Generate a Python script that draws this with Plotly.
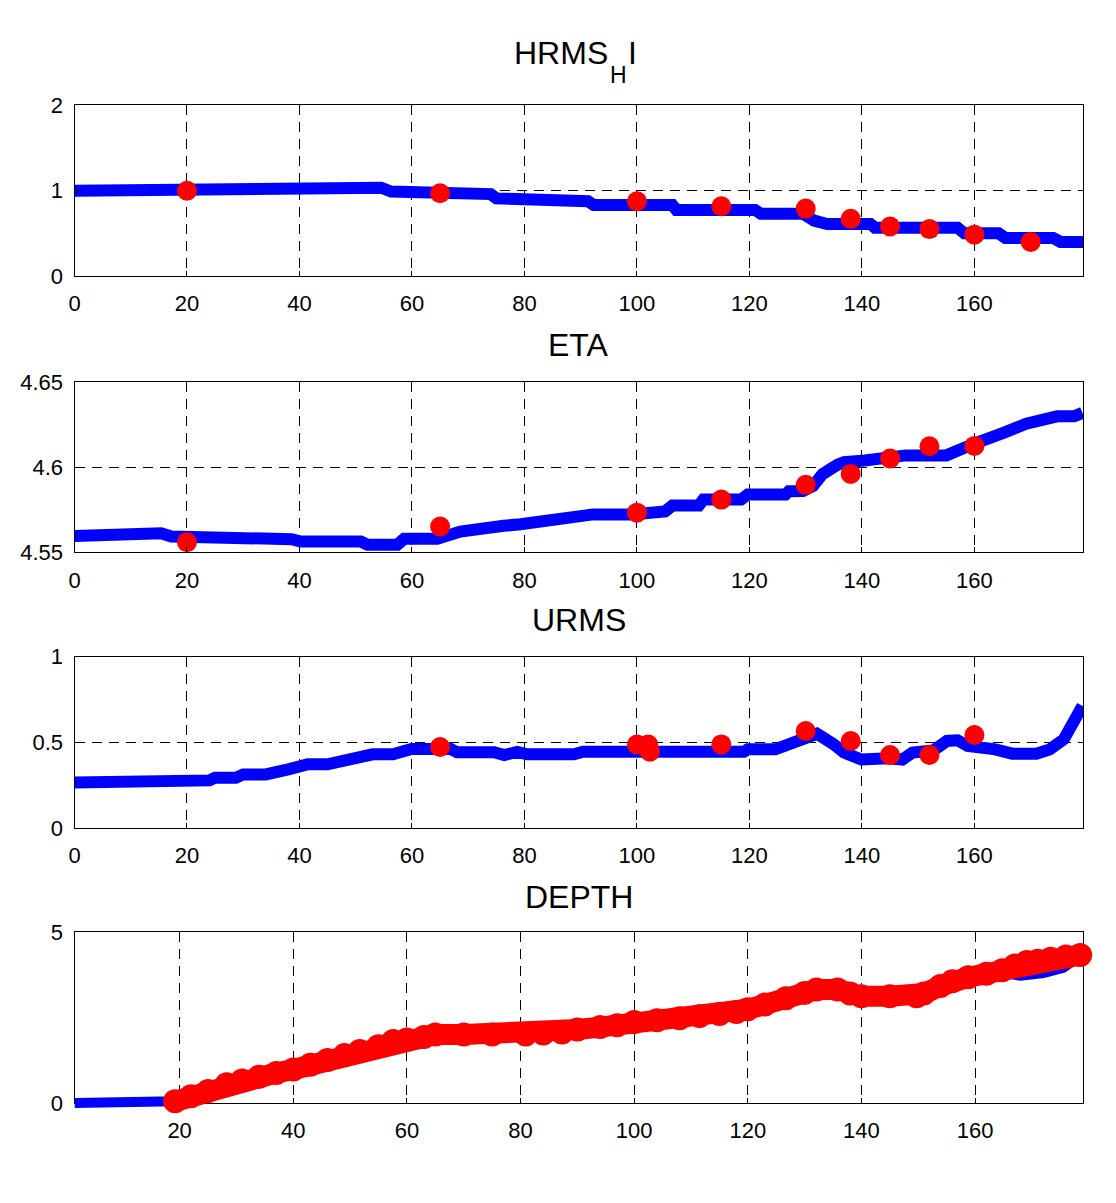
import plotly.graph_objects as go

# ---------------- data ----------------
hrms_x = [0, 25.5, 26.5, 54.5, 56.3, 67, 68, 74, 75, 81.5, 82.5, 91.3, 92.3, 106.3, 107,
          121, 122, 129.5, 131.5, 133.8, 141.5, 142.3, 157, 158.2, 164.3, 165.5, 174, 175.3, 179.3]
hrms_y = [1.0, 1.0, 1.035, 1.035, 0.99, 0.99, 0.96, 0.96, 0.91, 0.91, 0.876, 0.876, 0.833, 0.833, 0.775,
          0.775, 0.73, 0.73, 0.65, 0.61, 0.61, 0.566, 0.566, 0.50, 0.50, 0.446, 0.446, 0.40, 0.40]
hrms_obs_x = [20, 65, 100, 115, 130, 138, 145, 152, 160, 170]
hrms_obs_y = [1.0, 0.97, 0.876, 0.818, 0.79, 0.67, 0.58, 0.55, 0.485, 0.40]

eta_x = [0, 7.7, 8.9, 15.4, 17.2, 28.5, 30.3, 38.6, 40.2, 50.9, 52.1, 57.4, 58.6, 64.5, 68.6,
         72.2, 76.3, 79.3, 82, 86.8, 88.6, 92.2, 99, 105, 106.3, 111, 111.8, 118.5, 119.7, 126.4,
         127, 129.5, 131.3, 133, 135.6, 136.8, 140.5, 144, 147.8, 155, 156.9, 160, 165.5, 169.2,
         174.7, 177.7, 179.2]
eta_y = [4.5596, 4.5596, 4.5612, 4.5612, 4.5593, 4.5593, 4.5577, 4.5577, 4.5563, 4.5563, 4.5545,
         4.5545, 4.5579, 4.5579, 4.5622, 4.5645, 4.5656, 4.5665, 4.568, 4.569, 4.5705, 4.5723,
         4.5723, 4.574, 4.5775, 4.5775, 4.581, 4.581, 4.584, 4.584, 4.5859, 4.586, 4.589, 4.596,
         4.6014, 4.603, 4.604, 4.606, 4.607, 4.607, 4.609, 4.614, 4.6207, 4.6256, 4.630, 4.630, 4.632]
eta_obs_x = [20, 65, 100, 115, 130, 138, 145, 152, 160]
eta_obs_y = [4.5559, 4.5652, 4.5733, 4.581, 4.5897, 4.5961, 4.6052, 4.6124, 4.6126]

urms_x = [0, 19.5, 20.2, 24, 25, 28.7, 30, 34, 38, 41.5, 45, 48.6, 53, 56.6, 59.9, 66.9, 68,
          74.6, 76.4, 78.7, 80.5, 88.8, 90.4, 119, 119.7, 124.6, 129.5, 132, 135, 136.8, 139.9,
          141.7, 144.7, 147.2, 149, 152.7, 155.1, 157, 158.8, 163.7, 166.7, 171, 173.4, 175.9,
          177.7, 179.2]
urms_y = [0.265, 0.265, 0.278, 0.278, 0.294, 0.294, 0.313, 0.313, 0.342, 0.372, 0.372, 0.40,
          0.43, 0.43, 0.461, 0.461, 0.442, 0.442, 0.426, 0.444, 0.43, 0.43, 0.445, 0.445, 0.459,
          0.459, 0.531, 0.55, 0.488, 0.44, 0.40, 0.407, 0.407, 0.40, 0.44, 0.453, 0.508, 0.512,
          0.479, 0.459, 0.434, 0.434, 0.459, 0.518, 0.644, 0.712]
urms_obs_x = [65, 100, 102, 102.3, 115, 130, 138, 145, 152, 160]
urms_obs_y = [0.473, 0.487, 0.487, 0.445, 0.488, 0.566, 0.508, 0.426, 0.426, 0.543]

depth_obs_x = [19.2, 22, 25, 28.3, 31, 34, 37, 40, 43, 46, 49, 51.7, 55, 57.6, 60, 63, 65, 70,
               75, 80.9, 84, 87.3, 90, 94, 97, 100, 104, 108, 111.5, 115, 118, 120, 123, 126.7,
               130, 132.1, 135.8, 138, 140, 145, 149.7, 151, 153.9, 156, 158.8, 162, 164.8,
               167, 169.1, 171, 173.3, 176, 178.5]
depth_obs_y = [0.05, 0.2, 0.35, 0.55, 0.66, 0.77, 0.88, 0.98, 1.12, 1.26, 1.40, 1.52, 1.66,
               1.81, 1.86, 1.93, 2.0, 2.0, 2.0, 2.0, 2.03, 2.06, 2.15, 2.22, 2.27, 2.37, 2.42,
               2.48, 2.54, 2.6, 2.66, 2.74, 2.88, 3.06, 3.22, 3.32, 3.32, 3.2, 3.12, 3.12, 3.12,
               3.2, 3.42, 3.56, 3.68, 3.78, 3.88, 4.02, 4.12, 4.16, 4.22, 4.28, 4.33]
depth_x = [1.5, 18, 19.2, 28.3, 40, 51.7, 57.6, 60, 65, 80.9, 87.3, 100, 111.5, 120, 126.7,
           132.1, 135.8, 140, 149.7, 153.9, 158.8, 164.8, 168, 172, 175.5, 178.5]
depth_y = [0, 0, 0.05, 0.55, 0.98, 1.52, 1.81, 1.86, 2.0, 2.0, 2.06, 2.37, 2.54, 2.74, 3.06,
           3.32, 3.32, 3.12, 3.12, 3.42, 3.68, 3.82, 3.72, 3.8, 3.95, 4.3]

xtick_top = [0, 20, 40, 60, 80, 100, 120, 140, 160]
xtick_depth = [20, 40, 60, 80, 100, 120, 140, 160]
ytick_vals = [[0, 1, 2], [4.55, 4.6, 4.65], [0, 0.5, 1], [0, 5]]
ytick_text = [["0", "1", "2"], ["4.55", "4.6", "4.65"], ["0", "0.5", "1"], ["0", "5"]]

# ---------------- figure ----------------
W, H = 1116, 1203
BLUE, RED = "#0000ff", "#ff0000"
FONT = "Liberation Sans, Arial, Helvetica, sans-serif"

# plot boxes in pixels (top, bottom)
boxes = [(105.4, 276.0), (382.3, 552.3), (656.7, 828.0), (932.0, 1103.0)]
xl, xr = 74.5, 1083.0
xdom = [xl / W, xr / W]
xranges = [[0, 179.3], [0, 179.3], [0, 179.3], [1.5, 179.0]]
yranges = [[0, 2], [4.55, 4.65], [0, 1], [0, 5]]

# extra (invisible) subplot used to draw the DEPTH curves so they are not clipped at y=0
ext_px = 10.0
d_top, d_bot = boxes[3]
d_unit = (d_bot - d_top) / (yranges[3][1] - yranges[3][0])
depth_draw_range = [yranges[3][0] - ext_px / d_unit, yranges[3][1]]

fig = go.Figure()
# empty trace so that the DEPTH axes (x4/y4) are drawn
fig.add_trace(go.Scatter(x=[None], y=[None], mode="lines", xaxis="x4", yaxis="y4",
                         hoverinfo="skip", showlegend=False))

series = [
    (hrms_x, hrms_y, hrms_obs_x, hrms_obs_y),
    (eta_x, eta_y, eta_obs_x, eta_obs_y),
    (urms_x, urms_y, urms_obs_x, urms_obs_y),
    (depth_x, depth_y, depth_obs_x, depth_obs_y),
]
for i, (lx, ly, ox, oy) in enumerate(series):
    ax = "" if i == 0 else str(i + 1)
    if i == 3:
        ax = "5"
    fig.add_trace(go.Scatter(x=lx, y=ly, mode="lines", xaxis="x" + ax, yaxis="y" + ax,
                             line=dict(color=BLUE, width=12 if i < 3 else 10),
                             cliponaxis=False, hoverinfo="skip"))
    if i < 3:
        fig.add_trace(go.Scatter(x=ox, y=oy, mode="markers", xaxis="x" + ax, yaxis="y" + ax,
                                 marker=dict(color=RED, size=20, line=dict(width=0)),
                                 cliponaxis=False, hoverinfo="skip"))
    else:
        fig.add_trace(go.Scatter(x=ox, y=oy, mode="lines+markers", xaxis="x" + ax, yaxis="y" + ax,
                                 line=dict(color=RED, width=21),
                                 marker=dict(color=RED, size=24, line=dict(width=0)),
                                 cliponaxis=False, hoverinfo="skip"))

common = dict(showline=True, linecolor="black", linewidth=1, mirror="ticks",
              ticks="inside", ticklen=5, tickcolor="black", tickwidth=1,
              showgrid=True, gridcolor="black", gridwidth=1, griddash="10px,7px",
              zeroline=False, automargin=False,
              tickfont=dict(family=FONT, size=22, color="black"))

layout = dict(width=W, height=H, margin=dict(l=0, r=0, t=0, b=0, autoexpand=False),
              paper_bgcolor="white", plot_bgcolor="rgba(0,0,0,0)", showlegend=False)
for i in range(4):
    top, bot = boxes[i]
    ax = "" if i == 0 else str(i + 1)
    layout["xaxis" + ax] = dict(common, domain=xdom, range=xranges[i], anchor="y" + ax,
                                tickmode="array",
                                tickvals=xtick_top if i < 3 else xtick_depth,
                                ticktext=[str(v) for v in (xtick_top if i < 3 else xtick_depth)],
                                ticklabelstandoff=8)
    layout["yaxis" + ax] = dict(common, domain=[1 - bot / H, 1 - top / H], range=yranges[i],
                                anchor="x" + ax, tickmode="array", tickvals=ytick_vals[i],
                                ticktext=ytick_text[i], ticklabelstandoff=6)
layout["xaxis5"] = dict(domain=xdom, range=xranges[3], anchor="y5", visible=False,
                        showgrid=False, zeroline=False, automargin=False)
layout["yaxis5"] = dict(domain=[1 - (d_bot + ext_px) / H, 1 - d_top / H], range=depth_draw_range,
                        anchor="x5", visible=False, showgrid=False, zeroline=False,
                        automargin=False)

cx = (xl + xr) / 2 / W


def ann(text, xpx, ypx, size, xanchor="center"):
    return dict(text=text, xref="paper", yref="paper", x=xpx / W, y=1 - ypx / H,
                xanchor=xanchor, yanchor="middle", showarrow=False, borderpad=0, borderwidth=0,
                font=dict(family=FONT, size=size, color="black"))


layout["annotations"] = [
    ann("HRMS", 608, 53, 32, "right"),
    ann("H", 610, 75, 23, "left"),
    ann("I", 628, 53, 32, "left"),
    dict(ann("ETA", 0, 345, 32), x=cx),
    dict(ann("URMS", 0, 620, 32), x=cx),
    dict(ann("DEPTH", 0, 897, 32), x=cx),
]
fig.update_layout(**layout)

fig.write_html("out.html")
